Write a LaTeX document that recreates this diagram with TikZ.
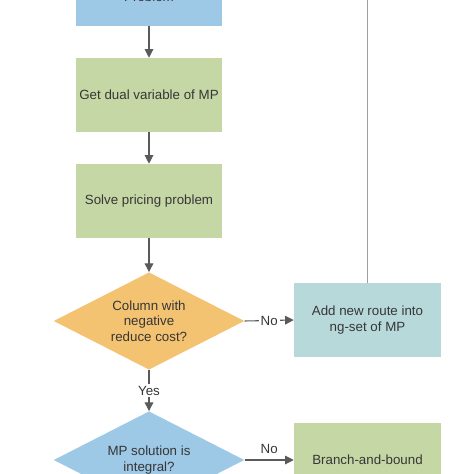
\documentclass[tikz,border=0pt]{standalone}
\usepackage{fontspec}
\setmainfont{Liberation Sans}
\usepackage{tikz}
\usetikzlibrary{shapes.geometric,arrows.meta}

\definecolor{boxblue}{HTML}{9DC8E6}
\definecolor{boxgreen}{HTML}{C6D7A6}
\definecolor{boxorange}{HTML}{F4C372}
\definecolor{boxteal}{HTML}{B8D9DA}
\definecolor{txtgray}{HTML}{363636}
\definecolor{linegray}{HTML}{5A5A5A}

\begin{document}
\begin{tikzpicture}[x=0.75pt,y=0.75pt,yscale=-1,xscale=1,
  every node/.style={font=\fontsize{10}{11.7}\selectfont,text=txtgray,align=center},
  procbox/.style={rectangle,inner sep=0pt,minimum width=109.5pt,minimum height=55.5pt},
  decision/.style={diamond,aspect=1.95,inner sep=0pt,minimum width=143pt,minimum height=73pt},
  flow/.style={draw=linegray,line width=0.8pt,-{Triangle[length=6.5pt,width=6.5pt]}}]
%set diagram to 474 x 474
\clip (0,0) rectangle (474,474);

% Box Nodes
\node [procbox,fill=boxblue] (master) at (149,-11) {};
\node [anchor=base] (mastertxt) at (149,2) {Problem};
\node [procbox,fill=boxgreen] (dual) at (149,95) {Get dual variable of MP};
\node [procbox,fill=boxgreen] (pricing) at (149,201) {Solve pricing problem};
\node [procbox,fill=boxteal,minimum width=110.25pt] (ngset) at (367.5,320) {Add new route into\\ng-set of MP};
\node [procbox,fill=boxgreen,minimum width=110.25pt] (bab) at (367.5,460) {Branch-and-bound};
% Decision Nodes
\node [decision,fill=boxorange] (negcost) at (149,321) {Column with\\negative\\reduce cost?};
\node [decision,fill=boxblue] (integral) at (149,460) {MP solution is\\integral?};
\coordinate (backtop) at (367.5,-20);

% Connection
\draw [flow] (master) -- (dual);
% Connection
\draw [flow] (dual) -- (pricing);
% Connection
\draw [flow] (pricing) -- (negcost);
% Connection
\draw [flow] (negcost.east) -- node [fill=white,inner sep=1.5pt] {No} (ngset.west);
% Connection
\draw [flow] (negcost.south) -- node [fill=white,inner sep=1.5pt] {Yes} (integral.north);
% Connection
\draw [flow] (integral.east) -- node [above=1pt] {No} (bab.west);
% Connection
\draw [draw=gray!75,line width=1.2pt] (ngset.north) -- (backtop);

\end{tikzpicture}
\end{document}
